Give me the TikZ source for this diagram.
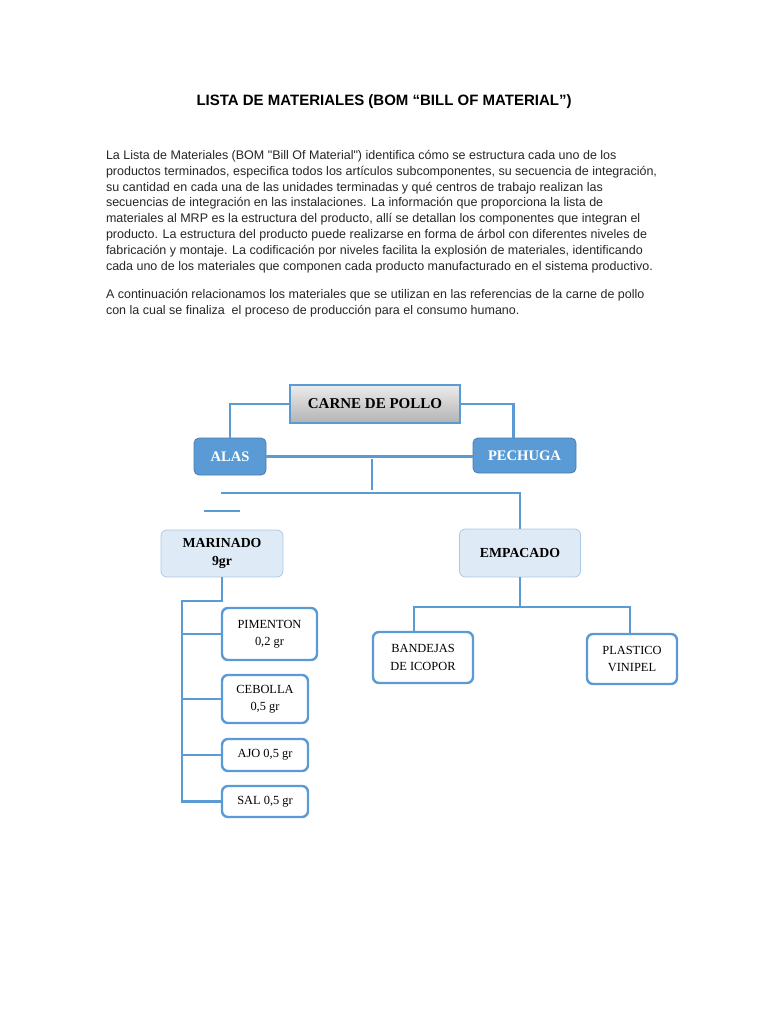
\documentclass[tikz,border=0pt]{standalone}
\usepackage{fontspec}
\setmainfont{Liberation Serif}
\newfontfamily\arialfont{Liberation Sans}
\usepackage{tikz}
\usetikzlibrary{positioning, calc, shapes}

\definecolor{bomblue}{RGB}{91,155,213}
\definecolor{bomlight}{RGB}{222,235,247}
\definecolor{bomedge}{RGB}{170,200,232}

\begin{document}
\begin{tikzpicture}[x=1pt, y=-1pt,
    every node/.style={outer sep=0pt, inner sep=2pt},
    link/.style={draw=bomblue, line width=2.8pt},
    textblock/.style={anchor=north west, align=left, text=black!85, inner sep=0pt,
                      font=\arialfont\fontsize{12.5}{15.9}\selectfont},
    topbox/.style={draw=bomblue, line width=2.4pt, top color=gray!15, bottom color=gray!60,
                   font=\fontsize{15}{17}\selectfont\bfseries},
    partbox/.style={draw=bomblue!80!black, line width=0.8pt, fill=bomblue, rounded corners=5pt,
                    text=white, font=\fontsize{14.6}{17}\selectfont\bfseries},
    subbox/.style={draw=bomedge, line width=0.8pt, fill=bomlight, rounded corners=6pt,
                   align=center, font=\fontsize{13.8}{18.5}\selectfont\bfseries},
    leafbox/.style={draw=bomblue, line width=2.4pt, fill=white, rounded corners=6pt,
                    align=center, font=\fontsize{12.4}{17.5}\selectfont}]
    \useasboundingbox (0,0) rectangle (768,1024);

    % Texts
    \node [font=\arialfont\bfseries\fontsize{15}{18}\selectfont] (title) at (384,102)
        {LISTA DE MATERIALES (BOM “BILL OF MATERIAL”)};
    \node [textblock] (intro) at (106,150)
        {La Lista de Materiales (BOM "Bill Of Material") identifica cómo se estructura cada uno de los\\
        productos terminados, especifica todos los artículos subcomponentes, su secuencia de integración,\\
        su cantidad en cada una de las unidades terminadas y qué centros de trabajo realizan las\\
        secuencias de integración en las instalaciones. La información que proporciona la lista de\\
        materiales al MRP es la estructura del producto, allí se detallan los componentes que integran el\\
        producto. La estructura del producto puede realizarse en forma de árbol con diferentes niveles de\\
        fabricación y montaje. La codificación por niveles facilita la explosión de materiales, identificando\\
        cada uno de los materiales que componen cada producto manufacturado en el sistema productivo.};
    \node [textblock] (cont) at (106,289)
        {A continuación relacionamos los materiales que se utilizan en las referencias de la carne de pollo\\
        con la cual se finaliza\ \ el proceso de producción para el consumo humano.};

    % Nodes
    \node [topbox, minimum width=170pt, minimum height=38pt] (carne) at (375,404) {CARNE DE POLLO};
    \node [partbox, minimum width=72pt, minimum height=37pt] (alas) at (230,456.5) {ALAS};
    \node [partbox, minimum width=103pt, minimum height=35pt] (pechuga) at (524.5,455.5) {PECHUGA};
    \node [subbox, minimum width=122pt, minimum height=47pt] (marinado) at (222,553.5) {MARINADO\\9gr};
    \node [subbox, minimum width=121pt, minimum height=48pt] (empacado) at (520,553) {EMPACADO};
    \node [leafbox, minimum width=95pt, minimum height=52pt] (pimenton) at (269.5,634) {PIMENTON\\0,2 gr};
    \node [leafbox, minimum width=86pt, minimum height=48pt] (cebolla) at (265,699) {CEBOLLA\\0,5 gr};
    \node [leafbox, minimum width=86pt, minimum height=32pt] (ajo) at (265,755) {AJO 0,5 gr};
    \node [leafbox, minimum width=86pt, minimum height=31pt] (sal) at (265,801.5) {SAL 0,5 gr};
    \node [leafbox, minimum width=100pt, minimum height=51pt] (bandejas) at (423,657.5) {BANDEJAS\\DE ICOPOR};
    \node [leafbox, minimum width=90pt, minimum height=50pt] (plastico) at (632,659) {PLASTICO\\VINIPEL};

    \coordinate (j1) at (372,459);
    \coordinate (j2) at (372,490);
    \coordinate (h1) at (221,493);
    \coordinate (s1) at (204,511);
    \coordinate (s2) at (240,511);
    \coordinate (m1) at (182,601);
    \coordinate (e1) at (520,607);

    % Edges
    % carne to alas and pechuga
    \draw [link] (carne.west) -| (alas.north);
    \draw [link] (carne.east) -| ([xshift=-11pt]pechuga.north);

    % alas to pechuga
    \draw [link] (alas.east) -- (alas.east -| pechuga.west);

    % down to empacado
    \draw [link] (j1) -- (j2);
    \draw [link] (h1) -| (empacado.north);
    \draw [link] (s1) -- (s2);

    % marinado to its parts
    \draw [link] (marinado.south) |- (m1) |- (sal.west);
    \foreach \n in {pimenton, cebolla, ajo}
        \draw [link] (m1 |- \n.west) -- (\n.west);

    % empacado to its parts
    \draw [link] (empacado.south) -- (e1);
    \draw [link] ([xshift=-9pt]bandejas.north) |- (e1) -| ([xshift=-2pt]plastico.north);

\end{tikzpicture}
\end{document}
